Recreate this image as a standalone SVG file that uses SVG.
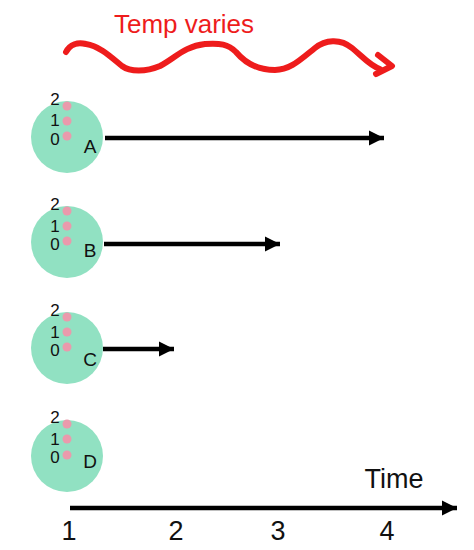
<svg xmlns="http://www.w3.org/2000/svg" width="474" height="550" viewBox="0 0 474 550">
<style>
.c{fill:#91e1c2}
.d{fill:#ea9aac}
.n{font-family:"Liberation Sans",Arial,sans-serif;font-size:17px;fill:#111;text-anchor:middle}
.l{font-family:"Liberation Sans",Arial,sans-serif;font-size:19px;fill:#111;text-anchor:middle}
.ax{font-family:"Liberation Sans",Arial,sans-serif;font-size:27px;fill:#111;text-anchor:middle}
.ar{stroke:#000;stroke-width:4.5;fill:none}
</style>
<defs>
<marker id="ah" markerUnits="userSpaceOnUse" markerWidth="17" markerHeight="17" viewBox="0 0 17 17" refX="16" refY="8.5" orient="auto">
<path d="M1,1 L16,8.5 L1,16 Z" fill="#000"/>
</marker>
</defs>
<rect width="474" height="550" fill="#fff"/>
<g id="temp">
<text x="184" y="33" font-family="Liberation Sans,Arial,sans-serif" font-size="26" fill="#ee1c1c" text-anchor="middle">Temp varies</text>
<path d="M66,52 C70,44 78,42 86,44 C100,46 112,58 122,66 C130,72 146,72 160,66 C175,58 185,46 205,44 C220,43 228,44 236,52 C246,64 258,70 275,70 C290,70 300,60 315,48 C325,40 340,38 352,48 C362,56 370,66 380,69" fill="none" stroke="#ee1c1c" stroke-width="6" stroke-linecap="round" stroke-linejoin="round"/>
<path d="M378,55 L392,66 L376,74" fill="none" stroke="#ee1c1c" stroke-width="6" stroke-linecap="round" stroke-linejoin="round"/>
</g>
<g id="nodeA" transform="translate(0,137)">
<circle class="c" cx="67" cy="0" r="36"/>
<circle class="d" cx="67" cy="-31" r="4.5"/><circle class="d" cx="67" cy="-16" r="4.5"/><circle class="d" cx="67" cy="-1" r="4.5"/>
<text class="n" x="55" y="-32">2</text><text class="n" x="55" y="-11">1</text><text class="n" x="55" y="8">0</text>
<text class="l" x="90" y="16">A</text>
</g>
<g id="nodeB" transform="translate(0,242)">
<circle class="c" cx="67" cy="0" r="36"/>
<circle class="d" cx="67" cy="-31" r="4.5"/><circle class="d" cx="67" cy="-16" r="4.5"/><circle class="d" cx="67" cy="-1" r="4.5"/>
<text class="n" x="55" y="-32">2</text><text class="n" x="55" y="-10">1</text><text class="n" x="55" y="8">0</text>
<text class="l" x="90" y="15">B</text>
</g>
<g id="nodeC" transform="translate(0,348)">
<circle class="c" cx="67" cy="0" r="36"/>
<circle class="d" cx="67" cy="-31" r="4.5"/><circle class="d" cx="67" cy="-16" r="4.5"/><circle class="d" cx="67" cy="-1" r="4.5"/>
<text class="n" x="55" y="-32">2</text><text class="n" x="55" y="-10">1</text><text class="n" x="55" y="8">0</text>
<text class="l" x="90" y="18">C</text>
</g>
<g id="nodeD" transform="translate(0,456)">
<circle class="c" cx="67" cy="0" r="36"/>
<circle class="d" cx="67" cy="-32" r="4.5"/><circle class="d" cx="67" cy="-17" r="4.5"/><circle class="d" cx="67" cy="-1" r="4.5"/>
<text class="n" x="55" y="-33">2</text><text class="n" x="55" y="-11">1</text><text class="n" x="55" y="7">0</text>
<text class="l" x="90" y="12">D</text>
</g>
<g id="connectors">
<line class="ar" x1="105" y1="138" x2="384" y2="138" marker-end="url(#ah)"/>
<line class="ar" x1="104" y1="244" x2="280" y2="244" marker-end="url(#ah)"/>
<line class="ar" x1="103" y1="349" x2="174" y2="349" marker-end="url(#ah)"/>
<line class="ar" x1="70" y1="508" x2="457" y2="508" marker-end="url(#ah)"/>
</g>
<g id="axis">
<text class="ax" x="394" y="488">Time</text>
<text class="ax" x="69" y="540">1</text>
<text class="ax" x="176" y="540">2</text>
<text class="ax" x="278" y="540">3</text>
<text class="ax" x="387" y="540">4</text>
</g>
</svg>
